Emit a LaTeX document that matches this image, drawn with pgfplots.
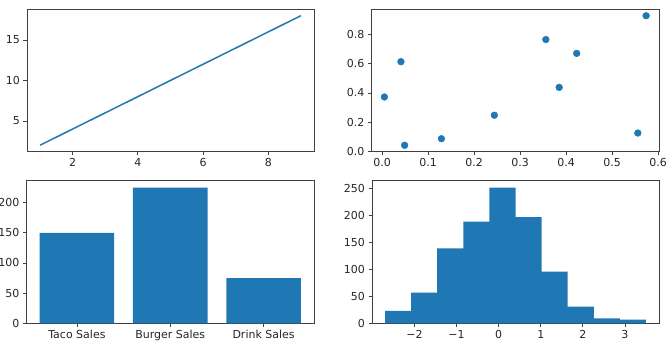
\documentclass[border=0pt]{standalone}
\usepackage{pgfplots}
\pgfplotsset{compat=1.18}
\usepackage{fontspec}
\setmainfont{DejaVu Sans}
\definecolor{mplblue}{HTML}{1F77B4}
\definecolor{spine}{HTML}{404040}
\definecolor{ticktext}{HTML}{262626}
\pgfplotsset{
  myax/.style={
    scale only axis, width=287pt, height=142.5pt, anchor=south west,
    axis line style={spine, line width=0.8pt},
    every tick/.style={spine, line width=0.8pt},
    tick align=outside, major tick length=3.5pt,
    minor tick num=0, tick pos=left,
    ticklabel style={font=\fontsize{11}{13}\selectfont, text=ticktext},
    /pgf/number format/assume math mode=true,
    scaled ticks=false,
  }
}
\begin{document}
\begin{tikzpicture}
\useasboundingbox (0,0) rectangle (670pt,347pt);
% top-left: line
\begin{axis}[myax, at={(27pt,195.3pt)},
  xmin=0.6, xmax=9.4, ymin=1.2, ymax=18.8,
  xtick={2,4,6,8}, ytick={5,10,15}]
\addplot[mplblue, line width=1.5pt] coordinates {(1,2)(2,4)(3,6)(4,8)(5,10)(6,12)(7,14)(8,16)(9,18)};
\end{axis}
% top-right: scatter
\begin{axis}[myax, at={(371.5pt,195.3pt)}, width=287.5pt,
  xmin=-0.023, xmax=0.602, ymin=-0.003, ymax=0.974,
  xtick={0,0.1,0.2,0.3,0.4,0.5,0.6}, ytick={0,0.2,0.4,0.6,0.8},
  xticklabel style={/pgf/number format/.cd, fixed, fixed zerofill, precision=1},
  yticklabel style={/pgf/number format/.cd, fixed, fixed zerofill, precision=1}]
\addplot[only marks, mark=*, mark size=3.4pt, mark options={fill=mplblue, draw=mplblue}] coordinates {
(0.005,0.372)(0.041,0.614)(0.049,0.041)(0.129,0.086)(0.244,0.247)
(0.356,0.766)(0.385,0.438)(0.423,0.671)(0.556,0.125)(0.574,0.929)};
\end{axis}
% bottom-left: bars
\begin{axis}[myax, at={(26.5pt,23.7pt)}, width=287.5pt,
  xmin=-0.54, xmax=2.54, ymin=0, ymax=236.25,
  xtick=data, xticklabels={Taco Sales, Burger Sales, Drink Sales},
  ytick={0,50,100,150,200}]
\addplot[ybar, bar width=0.8, bar shift=0pt, fill=mplblue, draw=none] coordinates {(0,150)(1,225)(2,75)};
\end{axis}
% bottom-right: histogram
\begin{axis}[myax, at={(372pt,23.7pt)},
  xmin=-3.01, xmax=3.81, ymin=0, ymax=264.6,
  xtick={-2,-1,0,1,2,3}, xticklabels={−2,−1,0,1,2,3},
  ytick={0,50,100,150,200,250}]
\addplot[ybar interval, fill=mplblue, draw=none] coordinates {
(-2.70,23)(-2.08,57)(-1.46,139)(-0.84,189)(-0.22,252)(0.40,197)(1.02,96)(1.64,31)(2.26,9)(2.88,7)(3.50,7)};
\end{axis}
\end{tikzpicture}
\end{document}
